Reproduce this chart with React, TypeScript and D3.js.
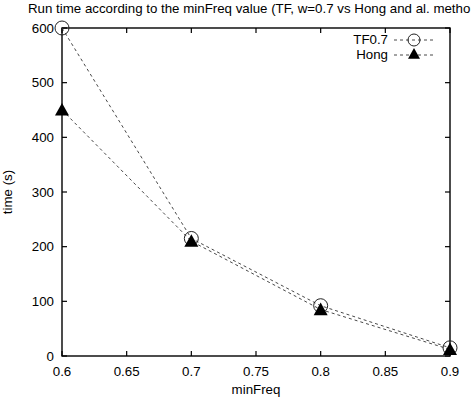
import React from "react";
import * as d3 from "d3";

const minFreq = [0.6, 0.7, 0.8, 0.9];
const tfValues = [600, 215, 92, 15];
const hongValues = [450, 210, 85, 12];
const xTicks = [0.6, 0.65, 0.7, 0.75, 0.8, 0.85, 0.9];
const yTicks = [0, 100, 200, 300, 400, 500, 600];
const title = "Run time according to the minFreq value (TF, w=0.7 vs Hong and al. metho";

export default function App() {
  const W = 474, H = 398;
  const L = 62, R = 450, T = 28, B = 356;
  const x = d3.scaleLinear().domain([0.6, 0.9]).range([L, R]);
  const y = d3.scaleLinear().domain([0, 600]).range([B, T]);
  const line = d3.line<number>().x((_, i) => x(minFreq[i])).y((d) => y(d));
  const font = "Liberation Sans, Arial, sans-serif";
  const fs = 13.3;
  const tri = (cx: number, cy: number, s = 7) =>
    `M${cx},${cy - s} L${cx + s},${cy + s * 0.8} L${cx - s},${cy + s * 0.8} Z`;
  const tl = 5;
  return (
    <svg width={W} height={H} style={{ position: "absolute", left: 0, top: 0, background: "#fff" }} fontFamily={font}>
      <text x={28} y={13} fontSize={fs} fill="#000">{title}</text>
      <rect x={L} y={T} width={R - L} height={B - T} fill="none" stroke="#000" strokeWidth={1.4} />
      {xTicks.map((t) => (
        <g key={"x" + t}>
          <line x1={x(t)} x2={x(t)} y1={B} y2={B - tl} stroke="#000" strokeWidth={1.2} />
          <line x1={x(t)} x2={x(t)} y1={T} y2={T + tl} stroke="#000" strokeWidth={1.2} />
          <text x={x(t)} y={376} fontSize={fs} textAnchor="middle">{String(t)}</text>
        </g>
      ))}
      {yTicks.map((t) => (
        <g key={"y" + t}>
          <line x1={L} x2={L + tl} y1={y(t)} y2={y(t)} stroke="#000" strokeWidth={1.2} />
          <line x1={R} x2={R - tl} y1={y(t)} y2={y(t)} stroke="#000" strokeWidth={1.2} />
          <text x={54} y={y(t) + 4.5} fontSize={fs} textAnchor="end">{t}</text>
        </g>
      ))}
      <text x={256} y={394} fontSize={fs} textAnchor="middle">minFreq</text>
      <text transform={`translate(12,${192}) rotate(-90)`} fontSize={fs} textAnchor="middle">time (s)</text>
      <path d={line(tfValues) || ""} fill="none" stroke="#333" strokeWidth={0.9} strokeDasharray="3,3" />
      <path d={line(hongValues) || ""} fill="none" stroke="#333" strokeWidth={0.9} strokeDasharray="3,3" />
      {tfValues.map((v, i) => (
        <circle key={"c" + i} cx={x(minFreq[i])} cy={y(v)} r={7} fill="none" stroke="#222" strokeWidth={1} />
      ))}
      {hongValues.map((v, i) => (
        <path key={"t" + i} d={tri(x(minFreq[i]), y(v))} fill="#000" />
      ))}
      <text x={388} y={44} fontSize={fs} textAnchor="end">TF0.7</text>
      <line x1={394} x2={434} y1={40} y2={40} stroke="#333" strokeWidth={0.9} strokeDasharray="3,3" />
      <circle cx={414} cy={40} r={6} fill="none" stroke="#222" strokeWidth={1} />
      <text x={388} y={59} fontSize={fs} textAnchor="end">Hong</text>
      <line x1={394} x2={434} y1={55} y2={55} stroke="#333" strokeWidth={0.9} strokeDasharray="3,3" />
      <path d={tri(414, 54, 6)} fill="#000" />
    </svg>
  );
}
